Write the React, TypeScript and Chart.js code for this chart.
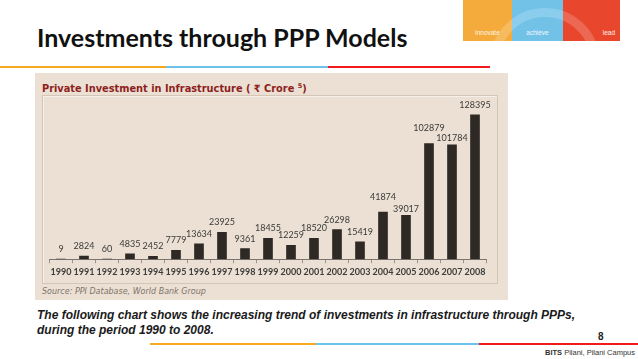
import React, { useEffect, useRef } from 'react';
import { Chart, registerables } from 'chart.js';

Chart.register(...registerables);

const years = ['1990', '1991', '1992', '1993', '1994', '1995', '1996', '1997', '1998', '1999', '2000', '2001', '2002', '2003', '2004', '2005', '2006', '2007', '2008'];
const investment = [9, 2824, 60, 4835, 2452, 7779, 13634, 23925, 9361, 18455, 12259, 18520, 26298, 15419, 41874, 39017, 102879, 101784, 128395];
const yMax = 138000;

const slideTitle = 'Investments through PPP Models';
const chartTitle = 'Private Investment in Infrastructure ( \u20B9 Crore ';
const sourceText = 'Source: PPI Database, World Bank Group';
const captionLines = [
  'The following chart shows the increasing trend of investments in infrastructure through PPPs,',
  'during the period 1990 to 2008.',
];

const valueLabels = {
  id: 'valueLabels',
  afterDatasetsDraw(chart: any) {
    const ctx = chart.ctx;
    const meta = chart.getDatasetMeta(0);
    ctx.save();
    ctx.font = '9px Lato';
    ctx.fillStyle = '#3a3a3a';
    ctx.textAlign = 'center';
    ctx.textBaseline = 'middle';
    const items = meta.data.map((el: any, i: number) => {
      const text = String(investment[i]);
      return { x: el.x, y: el.y - 10, w: ctx.measureText(text).width, text };
    });
    // separate neighbouring labels that would collide
    for (let i = 0; i < items.length - 1; i++) {
      const a = items[i];
      const b = items[i + 1];
      const hOverlap = a.w / 2 + b.w / 2 + 1 > b.x - a.x;
      const vOverlap = Math.abs(a.y - b.y) < 6;
      if (hOverlap && vOverlap) {
        const up = a.y <= b.y ? a : b;
        const down = up === a ? b : a;
        up.y -= 5;
        down.y += 3.5;
      }
    }
    items.forEach((it: any) => ctx.fillText(it.text, it.x, it.y));
    ctx.restore();
  },
};

function BarChart() {
  const ref = useRef<HTMLCanvasElement | null>(null);
  useEffect(() => {
    if (!ref.current) return;
    const chart = new Chart(ref.current, {
      type: 'bar',
      data: {
        labels: years,
        datasets: [
          {
            data: investment,
            backgroundColor: '#2e2925',
            barThickness: 9,
          },
        ],
      },
      options: {
        animation: false,
        responsive: false,
        maintainAspectRatio: false,
        layout: { padding: { top: 8, left: 6.5, right: 10.5, bottom: 2 } },
        plugins: { legend: { display: false }, tooltip: { enabled: false }, title: { display: false } },
        scales: {
          x: {
            offset: true,
            border: { display: true, color: '#7a7470', width: 1 },
            grid: { display: true, drawOnChartArea: false, drawTicks: true, tickLength: 4, offset: true, color: '#9a938c' },
            ticks: { color: '#3d3d3d', font: { family: 'Lato', size: 9, weight: 'bold' }, padding: 3, maxRotation: 0, autoSkip: false },
          },
          y: {
            display: false,
            min: 0,
            max: yMax,
          },
        },
      },
      plugins: [valueLabels],
    });
    return () => chart.destroy();
  }, []);
  return <canvas ref={ref} width={454} height={186} style={{ position: 'absolute', left: 43, top: 96, width: 454, height: 186 }} />;
}

export default function App() {
  return (
    <div style={{ position: 'fixed', left: 0, top: 0, width: 638, height: 359, background: '#ffffff', overflow: 'hidden', fontFamily: 'Lato, sans-serif' }}>
      {/* logo */}
      <div style={{ position: 'absolute', left: 463, top: 0, width: 49, height: 41, background: '#f4ab3c' }} />
      <div style={{ position: 'absolute', left: 512, top: 0, width: 51, height: 41, background: '#72c2e8' }} />
      <div style={{ position: 'absolute', left: 563, top: 0, width: 57, height: 41, background: '#e8472e' }} />
      <div style={{ position: 'absolute', left: 490, top: 8, width: 110, height: 110, borderRadius: '50%', border: '9px solid rgba(255,255,255,0.18)', boxSizing: 'border-box', clipPath: 'inset(0 0 70% 0)' }} />
      <div style={{ position: 'absolute', left: 463, top: 29, width: 49, textAlign: 'center', color: '#fff4e0', fontSize: 6.5, fontFamily: 'Liberation Sans, Arial, sans-serif' }}>innovate</div>
      <div style={{ position: 'absolute', left: 512, top: 29, width: 51, textAlign: 'center', color: '#eef8ff', fontSize: 6.5, fontFamily: 'Liberation Sans, Arial, sans-serif' }}>achieve</div>
      <div style={{ position: 'absolute', left: 563, top: 29, width: 52, textAlign: 'right', color: '#fff0ea', fontSize: 6.5, fontFamily: 'Liberation Sans, Arial, sans-serif' }}>lead</div>

      {/* title */}
      <div style={{ position: 'absolute', left: 37, top: 22, fontFamily: 'Lato', fontWeight: 700, fontSize: 25, color: '#111', whiteSpace: 'nowrap', lineHeight: '30px' }}>{slideTitle}</div>

      {/* title underline */}
      <div style={{ position: 'absolute', left: 0, top: 66, width: 166, height: 2, background: '#f7a823' }} />
      <div style={{ position: 'absolute', left: 166, top: 66, width: 162, height: 2, background: '#6cc3e8' }} />
      <div style={{ position: 'absolute', left: 328, top: 66, width: 162, height: 2, background: '#f21a1a' }} />

      {/* chart box */}
      <div style={{ position: 'absolute', left: 35, top: 73, width: 473, height: 227, background: '#ebe0d3' }} />
      <div style={{ position: 'absolute', left: 42, top: 80, fontFamily: 'DejaVu Sans, sans-serif', fontWeight: 700, fontSize: 9.8, color: '#8e1f1f', whiteSpace: 'nowrap', lineHeight: '12px' }}>
        {chartTitle}<sup style={{ fontSize: 6.5 }}>5</sup>)
      </div>
      <div style={{ position: 'absolute', left: 42, top: 95, width: 454, height: 187, border: '1px solid #d3c6b6', boxShadow: 'inset 1px 1px 0 #f6f0e8' }} />
      <BarChart />
      <div style={{ position: 'absolute', left: 42, top: 286, fontFamily: 'DejaVu Sans, sans-serif', fontStyle: 'italic', fontSize: 8, color: '#7d746b', whiteSpace: 'nowrap', lineHeight: '11px' }}>{sourceText}</div>

      {/* caption */}
      <div style={{ position: 'absolute', left: 37, top: 308, fontFamily: 'Liberation Sans, Arial, sans-serif', fontStyle: 'italic', fontWeight: 700, fontSize: 12, color: '#1a1a1a', whiteSpace: 'nowrap', lineHeight: '15px' }}>
        {captionLines.map((l, i) => (
          <div key={i}>{l}</div>
        ))}
      </div>

      {/* page number */}
      <div style={{ position: 'absolute', left: 598, top: 331, fontFamily: 'Liberation Sans, Arial, sans-serif', fontWeight: 700, fontSize: 10, color: '#222', lineHeight: '12px' }}>8</div>

      {/* footer line */}
      <div style={{ position: 'absolute', left: 150, top: 343, width: 166, height: 2, background: '#f7a823' }} />
      <div style={{ position: 'absolute', left: 316, top: 343, width: 163, height: 2, background: '#6cc3e8' }} />
      <div style={{ position: 'absolute', left: 479, top: 343, width: 159, height: 2, background: '#f21a1a' }} />
      <div style={{ position: 'absolute', left: 545, top: 348, fontFamily: 'Liberation Sans, Arial, sans-serif', fontSize: 7.5, color: '#333', whiteSpace: 'nowrap', lineHeight: '9px' }}>
        <b>BITS</b> Pilani, Pilani Campus
      </div>
    </div>
  );
}
